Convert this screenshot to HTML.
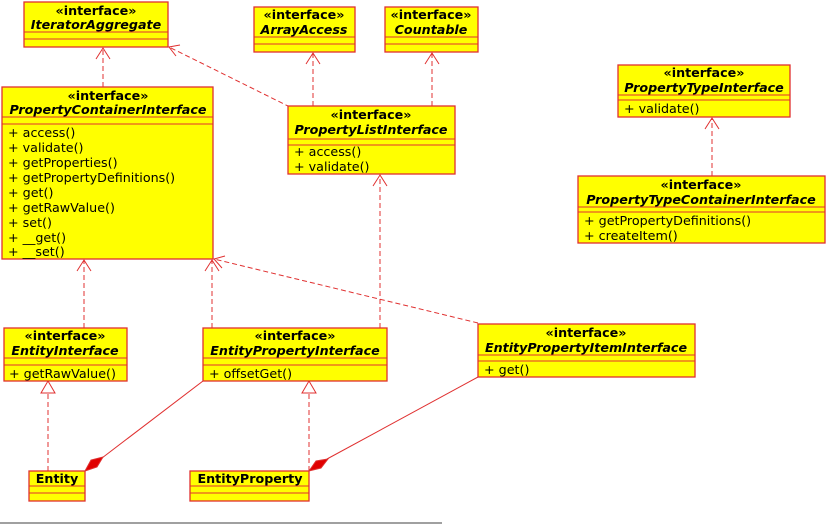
<!DOCTYPE html>
<html><head><meta charset="utf-8"><style>
html,body{margin:0;padding:0;background:#fff;}
svg{display:block;}
text{font-family:"DejaVu Sans",sans-serif;fill:#000;}
.s{font-size:12.7px;font-weight:bold;}
.n{font-size:12.7px;font-weight:bold;font-style:italic;}
.m{font-size:12.7px;}
.b{fill:#ffff00;stroke:#e03030;stroke-width:1.3;}
.l{stroke:#e03030;stroke-width:1;fill:none;}
.d{stroke:#e03030;stroke-width:1;fill:none;stroke-dasharray:5,3;}
</style></head><body>
<svg width="826" height="524" viewBox="0 0 826 524" xmlns="http://www.w3.org/2000/svg">
<line class="d" x1="103" y1="87" x2="103" y2="48"/><polyline class="l" points="96,59 103,48 110,59"/>
<line class="d" x1="290" y1="107" x2="169" y2="47"/><polyline class="l" points="176,56 169,47 180,45"/>
<line class="d" x1="313" y1="106" x2="313" y2="53"/><polyline class="l" points="306,64 313,53 320,64"/>
<line class="d" x1="432" y1="106" x2="432" y2="53"/><polyline class="l" points="425,64 432,53 439,64"/>
<line class="d" x1="712" y1="176" x2="712" y2="118"/><polyline class="l" points="705,129 712,118 719,129"/>
<line class="d" x1="84" y1="328" x2="84" y2="260"/><polyline class="l" points="77,271 84,260 91,271"/>
<line class="d" x1="212" y1="328" x2="212" y2="260"/><polyline class="l" points="205,271 212,260 219,271"/>
<line class="d" x1="380" y1="328" x2="380" y2="175"/><polyline class="l" points="373,186 380,175 387,186"/>
<line class="d" x1="478" y1="323" x2="214" y2="259"/><polyline class="l" points="222,268 214,259 225,256"/>
<line class="d" x1="48" y1="471" x2="48" y2="393"/><polygon points="41,393 48,381 55,393" fill="#fff" stroke="#e03030"/>
<line class="d" x1="309" y1="471" x2="309" y2="393"/><polygon points="302,393 309,381 316,393" fill="#fff" stroke="#e03030"/>
<line class="l" x1="203" y1="381" x2="102" y2="458"/><polygon points="85,471 91,460 103,457 97,467" fill="#e00000" stroke="#e03030"/>
<line class="l" x1="478" y1="377" x2="327" y2="459"/><polygon points="309,471 316,461 328,459 321,468" fill="#e00000" stroke="#e03030"/>
<g>
<rect class="b" x="24" y="2" width="144" height="45"/><line class="l" x1="24" y1="32" x2="168" y2="32"/><line class="l" x1="24" y1="39" x2="168" y2="39"/>
<text class="s" x="96" y="15" text-anchor="middle">«interface»</text><text class="n" x="96" y="29" text-anchor="middle">IteratorAggregate</text>
</g>
<g>
<rect class="b" x="254" y="7" width="101" height="45"/><line class="l" x1="254" y1="37" x2="355" y2="37"/><line class="l" x1="254" y1="44" x2="355" y2="44"/>
<text class="s" x="304" y="19" text-anchor="middle">«interface»</text><text class="n" x="304" y="34" text-anchor="middle">ArrayAccess</text>
</g>
<g>
<rect class="b" x="385" y="7" width="93" height="45"/><line class="l" x1="385" y1="37" x2="478" y2="37"/><line class="l" x1="385" y1="44" x2="478" y2="44"/>
<text class="s" x="431" y="19" text-anchor="middle">«interface»</text><text class="n" x="431" y="34" text-anchor="middle">Countable</text>
</g>
<g>
<rect class="b" x="2" y="87" width="211" height="172"/><line class="l" x1="2" y1="117" x2="213" y2="117"/><line class="l" x1="2" y1="124" x2="213" y2="124"/>
<text class="s" x="108" y="100" text-anchor="middle">«interface»</text><text class="n" x="108" y="114" text-anchor="middle">PropertyContainerInterface</text>
<text class="m" x="8" y="137">+ access()</text><text class="m" x="8" y="152">+ validate()</text><text class="m" x="8" y="167">+ getProperties()</text><text class="m" x="8" y="182">+ getPropertyDefinitions()</text><text class="m" x="8" y="197">+ get()</text><text class="m" x="8" y="212">+ getRawValue()</text><text class="m" x="8" y="227">+ set()</text><text class="m" x="8" y="242">+ __get()</text><text class="m" x="8" y="256">+ __set()</text>
</g>
<g>
<rect class="b" x="288" y="106" width="167" height="68"/><line class="l" x1="288" y1="139" x2="455" y2="139"/><line class="l" x1="288" y1="145" x2="455" y2="145"/>
<text class="s" x="371" y="119" text-anchor="middle">«interface»</text><text class="n" x="371" y="134" text-anchor="middle">PropertyListInterface</text>
<text class="m" x="294" y="156">+ access()</text><text class="m" x="294" y="171">+ validate()</text>
</g>
<g>
<rect class="b" x="618" y="65" width="172" height="52"/><line class="l" x1="618" y1="95" x2="790" y2="95"/><line class="l" x1="618" y1="100" x2="790" y2="100"/>
<text class="s" x="704" y="77" text-anchor="middle">«interface»</text><text class="n" x="704" y="92" text-anchor="middle">PropertyTypeInterface</text>
<text class="m" x="624" y="113">+ validate()</text>
</g>
<g>
<rect class="b" x="578" y="176" width="247" height="67"/><line class="l" x1="578" y1="207" x2="825" y2="207"/><line class="l" x1="578" y1="212" x2="825" y2="212"/>
<text class="s" x="701" y="189" text-anchor="middle">«interface»</text><text class="n" x="701" y="204" text-anchor="middle">PropertyTypeContainerInterface</text>
<text class="m" x="584" y="225">+ getPropertyDefinitions()</text><text class="m" x="584" y="240">+ createItem()</text>
</g>
<g>
<rect class="b" x="4" y="328" width="123" height="53"/><line class="l" x1="4" y1="358" x2="127" y2="358"/><line class="l" x1="4" y1="365" x2="127" y2="365"/>
<text class="s" x="65" y="340" text-anchor="middle">«interface»</text><text class="n" x="65" y="355" text-anchor="middle">EntityInterface</text>
<text class="m" x="9" y="378">+ getRawValue()</text>
</g>
<g>
<rect class="b" x="203" y="328" width="184" height="53"/><line class="l" x1="203" y1="358" x2="387" y2="358"/><line class="l" x1="203" y1="365" x2="387" y2="365"/>
<text class="s" x="295" y="340" text-anchor="middle">«interface»</text><text class="n" x="295" y="355" text-anchor="middle">EntityPropertyInterface</text>
<text class="m" x="209" y="378">+ offsetGet()</text>
</g>
<g>
<rect class="b" x="478" y="324" width="217" height="53"/><line class="l" x1="478" y1="355" x2="695" y2="355"/><line class="l" x1="478" y1="361" x2="695" y2="361"/>
<text class="s" x="586" y="337" text-anchor="middle">«interface»</text><text class="n" x="586" y="352" text-anchor="middle">EntityPropertyItemInterface</text>
<text class="m" x="484" y="374">+ get()</text>
</g>
<g>
<rect class="b" x="29" y="471" width="56" height="30"/><line class="l" x1="29" y1="486" x2="85" y2="486"/><line class="l" x1="29" y1="493" x2="85" y2="493"/>
<text class="s" x="57" y="483" text-anchor="middle">Entity</text>
</g>
<g>
<rect class="b" x="190" y="471" width="119" height="30"/><line class="l" x1="190" y1="486" x2="309" y2="486"/><line class="l" x1="190" y1="493" x2="309" y2="493"/>
<text class="s" x="250" y="483" text-anchor="middle">EntityProperty</text>
</g>
<line x1="0" y1="523" x2="442" y2="523" stroke="#808080" stroke-width="1.5"/>
</svg>
</body></html>
